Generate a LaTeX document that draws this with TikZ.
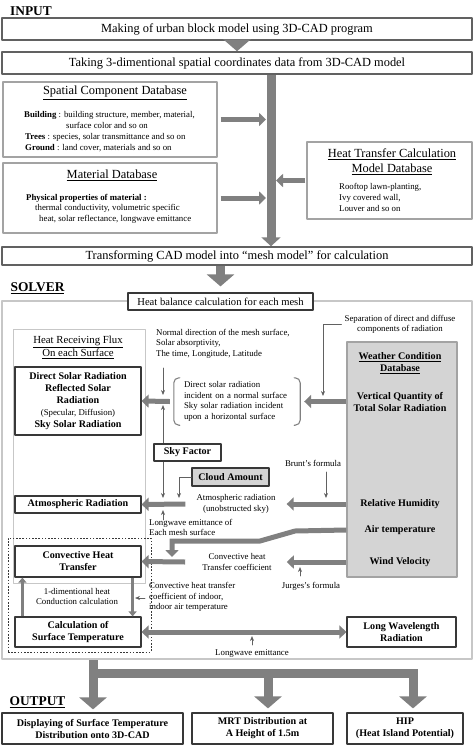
\documentclass[tikz,border=0pt]{standalone}
\usepackage{fontspec}
\setmainfont{Liberation Serif}
\usetikzlibrary{arrows.meta}
\definecolor{wqwqwq}{rgb}{0.38,0.38,0.38}
\definecolor{sqsqsq}{rgb}{0.22,0.22,0.22}
\definecolor{xdxdxd}{rgb}{0.5,0.5,0.5}
\definecolor{aqaqaq}{rgb}{0.64,0.64,0.64}
\definecolor{cqcqcq}{rgb}{0.78,0.78,0.78}
\definecolor{dcdcdc}{rgb}{0.83,0.83,0.83}
\begin{document}
\begin{tikzpicture}[line cap=round,line join=round,>={Stealth[length=5pt,width=4pt]},x=1pt,y=-1pt,
  every node/.style={inner sep=0pt},
  txt/.style={font=\fontsize{8.8}{10.6}\selectfont},
  lbl/.style={font=\fontsize{12.4}{15}\selectfont},
  hdr/.style={font=\bfseries\fontsize{13.4}{16}\selectfont},
  bld/.style={font=\bfseries\fontsize{10.1}{12}\selectfont},
  wbox/.style={draw=wqwqwq,line width=1.5pt,fill=white,minimum width=470,font=\fontsize{12.4}{15}\selectfont},
  dbox/.style={draw=aqaqaq,line width=1.3pt,fill=white},
  bbox/.style={draw=sqsqsq,line width=1.2pt,fill=white,align=center,font=\bfseries\fontsize{10.1}{12}\selectfont},
  bigarr/.style={draw=xdxdxd,line cap=butt,line width=9pt,-{Triangle[width=27pt,length=12pt]}},
  bararr/.style={draw=xdxdxd,line cap=butt,line width=9pt,-{Triangle[width=19pt,length=9pt]}},
  midarr/.style={draw=xdxdxd,line cap=butt,line join=miter,line width=5pt,-{Triangle[width=13pt,length=7pt]}},
  smlarr/.style={draw=xdxdxd,line cap=butt,line width=3.5pt,-{Triangle[width=8pt,length=5pt]}},
  thin/.style={draw=wqwqwq,line width=0.7pt}]
\useasboundingbox (0,0) rectangle (474,748);
% INPUT
\node[hdr] (input) at (31,12) {\underline{INPUT}};
\node[wbox,minimum height=22] (make) at (237,29) {Making of urban block model using 3D-CAD program};
\node[wbox,minimum height=22] (take) at (237,63) {Taking 3-dimentional spatial coordinates data from 3D-CAD model};
\node[dbox,minimum width=214,minimum height=75] (spatial) at (110,119.5) {};
\node[dbox,minimum width=214,minimum height=70] (material) at (110,198) {};
\node[dbox,minimum width=165,minimum height=77] (ht) at (389.5,180.5) {};
\node[wbox,minimum height=18] (mesh) at (237,256) {Transforming CAD model into “mesh model” for calculation};
\coordinate (bar) at (271,0);
\draw[bigarr] (make.south) -- (take.north);
\draw[bararr] (take.south -| bar) -- (mesh.north -| bar);
\draw[midarr] ([xshift=3]spatial.east) -- ([xshift=-5]bar |- spatial.east);
\draw[midarr] ([xshift=3]material.east) -- ([xshift=-5]bar |- material.east);
\draw[midarr] ([xshift=-1]ht.west) -- ([xshift=5]bar |- ht.west);
\node[lbl] (sptitle) at (115,93) {\underline{Spatial Component Database}};
\node[txt,anchor=west] (bldg) at (24,115) {\textbf{Building} : building structure, member, material,};
\node[txt,anchor=west] (bldg2) at (66,125) {surface color and so on};
\node[txt,anchor=west] (trees) at (25,137) {\textbf{Trees} : species, solar transmittance and so on};
\node[txt,anchor=west] (ground) at (25,148) {\textbf{Ground} : land cover, materials and so on};
\node[lbl] (mattitle) at (112,175) {\underline{Material Database}};
\node[txt,anchor=west] (phys) at (26,198) {\textbf{Physical properties of material :}};
\node[txt,anchor=west] (phys2) at (35,208) {thermal conductivity, volumetric specific};
\node[txt,anchor=west] (phys3) at (39,219) {heat, solar reflectance, longwave emittance};
\node[lbl,align=center] (httitle) at (392,161.5) {\underline{Heat Transfer Calculation}\\\underline{Model Database}};
\node[txt,align=left,anchor=west] (roof) at (339,197.5) {Rooftop lawn-planting,\\Ivy covered wall,\\Louver and so on};
% SOLVER
\node[draw=cqcqcq,line width=2.5pt,minimum width=470,minimum height=358] (solverbox) at (237,480) {};
\node[hdr] (solver) at (37.5,288) {\underline{SOLVER}};
\node[draw=sqsqsq,line width=1.2pt,fill=white,minimum width=185,minimum height=17,font=\fontsize{10.6}{12}\selectfont] (hb) at (220.5,301.5) {Heat balance calculation for each mesh};
\draw[bigarr] (mesh.south -| hb) -- ([yshift=6]hb.north);
\node[draw=cqcqcq,line width=1pt,minimum width=132,minimum height=254] (hrf) at (79,456) {};
\node[draw=sqsqsq,line width=0.9pt,dash pattern=on 1.6pt off 1.6pt,line cap=butt,minimum width=143,minimum height=114] (dotted) at (79.5,595) {};
\node[align=center,font=\fontsize{10.8}{11.8}\selectfont] (hrftitle) at (78,347.5) {\underline{Heat Receiving Flux}\\\underline{On each Surface}};
\node[bbox,minimum width=126,minimum height=68] (direct) at (78,401) {Direct Solar Radiation\\Reflected Solar\\Radiation\\{\mdseries\fontsize{8.8}{12}\selectfont(Specular, Diffusion)}\\Sky Solar Radiation};
\node[bbox,minimum width=126,minimum height=17] (atm) at (78,504.5) {Atmospheric Radiation};
\node[bbox,minimum width=126,minimum height=31] (conv) at (78,561.5) {Convective Heat\\Transfer};
\node[bbox,minimum width=126,minimum height=30] (calc) at (78,632) {Calculation of\\Surface Temperature};
\node[draw=aqaqaq,line width=1.2pt,fill=dcdcdc,minimum width=110,minimum height=235] (weather) at (402,459.5) {};
\node[bld,align=center] (wtitle) at (400,363) {\underline{Weather Condition}\\\underline{Database}};
\node[bld,align=center] (wvert) at (400,402) {Vertical Quantity of\\Total Solar Radiation};
\node[bld] (whum) at (400,504) {Relative Humidity};
\node[bld] (wair) at (400,530) {Air temperature};
\node[bld] (wwind) at (400,562) {Wind Velocity};
\node[bbox,minimum width=109,minimum height=30] (lw) at (401.5,632) {Long Wavelength\\Radiation};
% texts between
\node[txt,align=left,anchor=west] (normal) at (156,343.5) {Normal direction of the mesh surface,\\Solar absorptivity,\\The time, Longitude, Latitude};
\node[txt,align=left,text width=106,inner xsep=10pt,minimum height=47] (brk) at (237,401.5) {Direct solar radiation\\incident on a normal surface\\Sky solar radiation incident\\upon a horizontal surface};
\draw[draw=xdxdxd,line width=1.1pt,rounded corners=5pt] ([xshift=6]brk.north west) -- (brk.north west) -- (brk.south west) -- ([xshift=6]brk.south west);
\draw[draw=xdxdxd,line width=1.1pt,rounded corners=5pt] ([xshift=-6]brk.north east) -- (brk.north east) -- (brk.south east) -- ([xshift=-6]brk.south east);
\node[txt,align=center] (sep) at (400,324.5) {Separation of direct and diffuse\\components of radiation};
\node[txt] (brunt) at (313,463) {Brunt’s formula};
\node[txt,align=center] (atmtxt) at (236,504) {Atmospheric radiation\\(unobstructed sky)};
\node[txt,align=left,anchor=west] (lwe) at (149,527.5) {Longwave emittance of\\Each mesh surface};
\node[txt,align=center] (cvtxt) at (237,562) {Convective heat\\Transfer coefficient};
\node[txt] (jurges) at (311,586) {Jurges’s formula};
\node[txt,align=left,anchor=west] (indoor) at (149,597) {Convective heat transfer\\coefficient of indoor,\\indoor air temperature};
\node[txt,align=center] (cond) at (77,596.5) {1-dimentional heat\\Conduction calculation};
\node[txt] (lwe2) at (252,654) {Longwave emittance};
% thin arrows
\coordinate (nrm1) at (163,368);
\coordinate (nrm2) at (163,395);
\coordinate (sf1) at (163,405);
\coordinate (sf2) at (163,498);
\coordinate (sepend) at (323,396);
\coordinate (cloudend) at (179,498);
\coordinate (br1) at (326,472);
\coordinate (br2) at (326,498);
\coordinate (lwe1) at (163,520);
\coordinate (lwe3) at (163,510);
\coordinate (ju1) at (300,576);
\coordinate (ju2) at (300,567);
\coordinate (in1) at (145,598);
\coordinate (in2) at (135,598);
\coordinate (lw1) at (252,645);
\coordinate (lw2) at (252,636);
\draw[thin,->] (nrm1) -- (nrm2);
\draw[thin,<->] (sf1) -- (sf2);
\draw[thin,->] ([xshift=-3]sep.west) -| (sepend);
\draw[thin,->] (br1) -- (br2);
\draw[thin,->] (lwe1) -- (lwe3);
\draw[thin,->] (ju1) -- (ju2);
\draw[thin,->] (in1) -- (in2);
\draw[thin,->] (lw1) -- (lw2);
\node[bbox,minimum width=67,minimum height=17] (sky) at (187.5,452.5) {Sky Factor};
\node[bbox,fill=dcdcdc,minimum width=77,minimum height=18] (cloud) at (230.5,477) {Cloud Amount};
\draw[thin,->] (cloud.west) -| (cloudend);
% thick arrows
\draw[midarr] ([xshift=-4]brk.west) -- (direct.east);
\draw[midarr] (weather.west |- brk) -- ([xshift=4]brk.east);
\draw[midarr] ([xshift=-11]atmtxt.west) -- (atm.east);
\draw[midarr] (weather.west |- atmtxt) -- ([xshift=11]atmtxt.east);
\draw[midarr] (weather.west |- wair) -- (295,531) -- (260,541) -- (172,541) -- (172,557);
\draw[midarr] ([xshift=-17]cvtxt.west) -- (conv.east);
\draw[midarr] (weather.west |- cvtxt) -- ([xshift=15]cvtxt.east);
\draw[smlarr] ([xshift=8]calc.north west) -- ([xshift=8]conv.south west);
\draw[smlarr] ([xshift=-9]conv.south east) -- ([xshift=-9]calc.north east);
\draw[midarr,{Triangle[width=13pt,length=7pt]}-{Triangle[width=13pt,length=7pt]}] (calc.east) -- (lw.west);
% OUTPUT
\node[hdr] (output) at (37.5,702) {\underline{OUTPUT}};
\node[bbox,minimum width=181,minimum height=31] (outa) at (92.5,728.5) {Displaying of Surface Temperature\\Distribution onto 3D-CAD};
\node[bbox,minimum width=141,minimum height=31] (outb) at (262.5,728.5) {MRT Distribution at\\A Height of 1.5m};
\node[bbox,minimum width=116,minimum height=31] (outc) at (405,728.5) {HIP\\(Heat Island Potential)};
\coordinate (split) at (93,673);
\coordinate (colb) at (268,673);
\coordinate (colc) at (413,673);
\draw[draw=xdxdxd,line cap=butt,line width=9pt] (split) -- ([xshift=4.5]colc);
\draw[bigarr] (solverbox.south -| split) -- ([yshift=3]outa.north -| split);
\draw[bigarr] (colb) -- ([yshift=4]outb.north -| colb);
\draw[bigarr] (colc) -- ([yshift=4]outc.north -| colc);
\end{tikzpicture}
\end{document}
